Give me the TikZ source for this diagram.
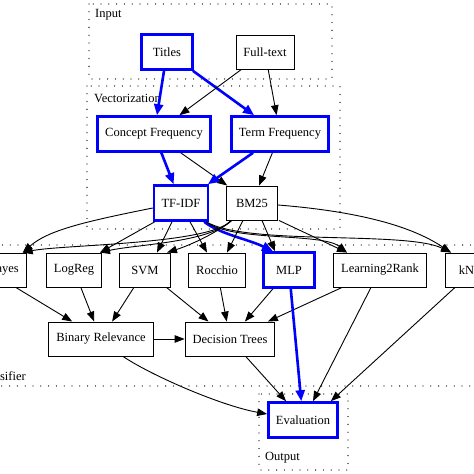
\documentclass[tikz,border=0pt]{standalone}
\usepackage{fontspec}
\setmainfont{Liberation Serif}
\usetikzlibrary{arrows.meta}
\tikzset{
% Two box styles for the pipeline: plain and highlighted
plain node/.style={rectangle,draw,line width=0.9pt,inner xsep=7.5pt,minimum width=51pt,minimum height=34pt},
blue node/.style={plain node,draw=blue,line width=2.6pt,minimum height=35pt},
% Dotted frame round a group of boxes
cluster/.style={draw,line width=1.3pt,dash pattern=on 0pt off 7.8pt,line cap=round}
}

\begin{document}
\begin{tikzpicture}[x=1pt,y=1pt,font=\fontsize{12.5}{15}\selectfont]
      % Edge styles: thin black and thick blue
      \tikzstyle{edge}=[line width=0.9pt,-{Triangle[length=10pt,width=7.5pt]}]
      \tikzstyle{blue edge}=[draw=blue,line width=2.6pt,-{Triangle[length=11pt,width=9pt]}]
      \useasboundingbox (0,0) rectangle (474,474);
      \clip (0,0) rectangle (474,474);
      % Clusters
      \draw[cluster] (89,470) rectangle (332,395);
      \node[anchor=west,inner sep=0] at (95,459) {Input};
      \draw[cluster] (87,388) rectangle (340,245);
      \node[anchor=west,inner sep=0] at (94,376) {Vectorization};
      \draw[cluster] (-60,229) rectangle (540,88);
      \node[anchor=east,inner sep=0] at (26,98) {Classifier};
      \draw[cluster] (259,80) rectangle (348,4);
      \node[anchor=west,inner sep=0] at (265,16) {Output};
      % Input
      \node(titles)[blue node] at (167,422) {Titles};
      \node(fulltext)[plain node] at (265,422) {Full-text};
      % Vectorization
      \node(concept)[blue node] at (154,340) {Concept Frequency};
      \node(term)[blue node] at (280,340) {Term Frequency};
      \node(tfidf)[blue node] at (181,271) {TF-IDF};
      \node(bm)[plain node] at (252,271) {BM25};
      % Classifiers
      \node(nb)[plain node] at (-13,204) {Naive Bayes};
      \node(logreg)[plain node] at (74,204) {LogReg};
      \node(svm)[plain node] at (145,204) {SVM};
      \node(rocchio)[plain node] at (217,204) {Rocchio};
      \node(mlp)[blue node] at (289,204) {MLP};
      \node(ltr)[plain node] at (380,204) {Learning2Rank};
      \node(knn)[plain node] at (471,204) {kNN};
      \node(binrel)[plain node] at (101,135) {Binary Relevance};
      \node(dtrees)[plain node] at (230,135) {Decision Trees};
      % Output
      \node(eval)[blue node] at (303,54) {Evaluation};
      % Input to vectorization
      \draw[blue edge] (titles) -- (concept);
      \draw[blue edge] (titles) -- (term);
      \draw[edge] (fulltext) -- (concept);
      \draw[edge] (fulltext) -- (term);
      \draw[blue edge] (concept) -- (tfidf);
      \draw[edge] (concept) -- (bm);
      \draw[blue edge] (term) -- (tfidf);
      \draw[edge] (term) -- (bm);
      % TF-IDF to classifiers
      \draw[edge] ([yshift=-5]tfidf.west) .. controls +(-70,-14) and +(25,22) .. ([xshift=-4]nb.north east);
      \draw[edge] ([xshift=2]tfidf.south west) -- ([xshift=26]logreg.north);
      \draw[edge] ([xshift=-9]tfidf.south) -- ([xshift=12]svm.north);
      \draw[edge] ([xshift=9]tfidf.south) -- ([xshift=-10]rocchio.north);
      \draw[blue edge] ([xshift=-5]tfidf.south east) .. controls +(15,-12) and +(-25,12) .. ([xshift=-16]mlp.north);
      \draw[edge] ([xshift=-3]tfidf.south east) .. controls +(25,-20) and +(-25,20) .. ([xshift=-33]ltr.north);
      \draw[edge] ([xshift=-3]tfidf.south east) .. controls +(40,-24) and +(-45,22) .. ([xshift=-20]knn.north);
      % BM25 to classifiers
      \draw[edge] ([xshift=5]bm.south west) .. controls +(-20,-24) and +(40,8) .. ([xshift=-4]nb.north east);
      \draw[edge] ([xshift=5]bm.south west) .. controls +(-20,-22) and +(35,8) .. ([xshift=26]logreg.north);
      \draw[edge] ([xshift=6]bm.south west) .. controls +(-15,-12) and +(25,8) .. ([xshift=22]svm.north);
      \draw[edge] ([xshift=-9]bm.south) -- ([xshift=10]rocchio.north);
      \draw[edge] ([xshift=10]bm.south) -- ([xshift=-14]mlp.north);
      \draw[edge] ([xshift=1]bm.south east) -- ([xshift=-33]ltr.north);
      \draw[edge] ([yshift=-2]bm.east) .. controls +(100,-8) and +(-30,20) .. ([xshift=-20]knn.north);
      % Classifiers to combiners
      \draw[edge] (nb) -- (binrel);
      \draw[edge] (logreg) -- (binrel);
      \draw[edge] (svm) -- (binrel);
      \draw[edge] (svm) -- (dtrees);
      \draw[edge] (rocchio) -- (dtrees);
      \draw[edge] (mlp) -- (dtrees);
      \draw[edge] (ltr) -- (dtrees);
      \draw[edge] (binrel) -- (dtrees);
      % To evaluation
      \draw[edge] ([xshift=22]binrel.south) .. controls +(30,-20) and +(-45,8) .. ([yshift=6]eval.west);
      \draw[edge] (dtrees) -- (eval);
      \draw[blue edge] (mlp) -- (eval);
      \draw[edge] ([xshift=-9]ltr.south) -- ([xshift=10]eval.north);
      \draw[edge] ([xshift=-16]knn.south) -- ([xshift=-8]eval.north east);
\end{tikzpicture}
\end{document}
